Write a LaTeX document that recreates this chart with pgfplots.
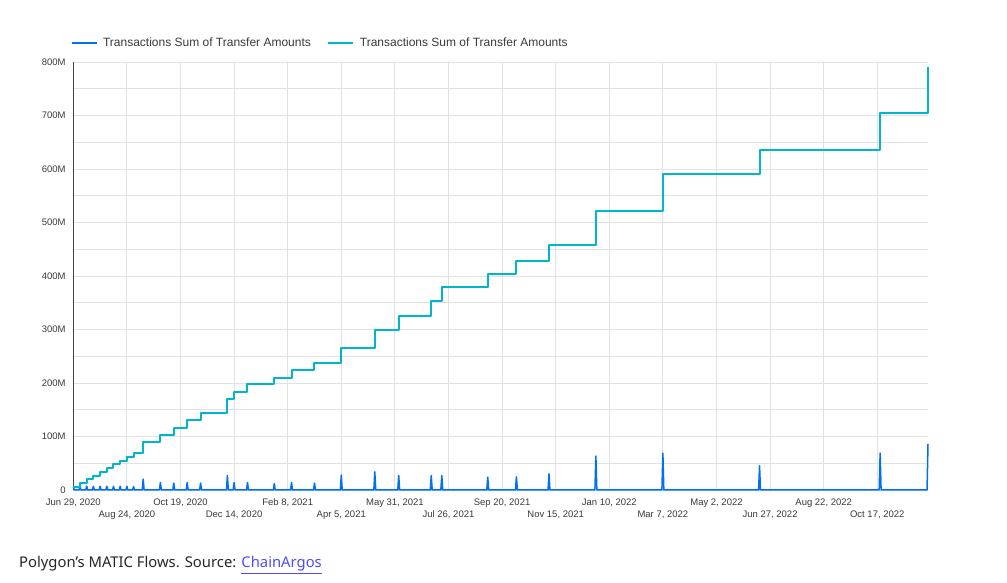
\documentclass[border=0pt]{standalone}
\usepackage{pgfplots}
\pgfplotsset{compat=1.18}
\usepackage{fontspec}
\setmainfont{Liberation Sans}
\newfontfamily\capfont{Noto Sans}
\definecolor{sblue}{HTML}{0072F0}
\definecolor{scyan}{HTML}{00B6CB}
\definecolor{gridc}{HTML}{E2E2E2}
\definecolor{labc}{HTML}{3A3A3A}
\definecolor{axc}{HTML}{444444}
\definecolor{linkc}{HTML}{4B4BFF}
\begin{document}
\begin{tikzpicture}[x=1pt,y=1pt]
\fill[white] (-73.3,-93) rectangle (933.7,490);
\useasboundingbox (-73.3,-93) rectangle (933.7,490);
\begin{axis}[
  scale only axis, width=854.7pt, height=428pt,
  xmin=0, xmax=893, ymin=0, ymax=800,
  clip=false,
  axis x line*=bottom, axis y line*=left,
  axis line style={axc, line width=0.8pt},
  x axis line style={draw=gridc},
  major tick length=0pt, minor tick length=0pt,
  ytick={0,100,...,800},
  yticklabels={0,100M,200M,300M,400M,500M,600M,700M,800M},
  minor ytick={50,150,...,750},
  ymajorgrids, yminorgrids, xmajorgrids,
  grid style={gridc, line width=0.8pt},
  minor grid style={gridc, line width=0.8pt},
  xtick={0,112,...,784},
  xticklabels={{Jun 29, 2020},{Oct 19, 2020},{Feb 8, 2021},{May 31, 2021},{Sep 20, 2021},{Jan 10, 2022},{May 2, 2022},{Aug 22, 2022}},
  extra x ticks={56,168,...,840},
  extra x tick labels={{Aug 24, 2020},{Dec 14, 2020},{Apr 5, 2021},{Jul 26, 2021},{Nov 15, 2021},{Mar 7, 2022},{Jun 27, 2022},{Oct 17, 2022}},
  extra x tick style={grid=major, xticklabel style={yshift=-12.7pt}},
  xticklabel style={font=\fontsize{9.5}{11}\selectfont, text=labc, text height=7pt, text depth=2pt, yshift=-4.5pt},
  yticklabel style={font=\fontsize{9.5}{11}\selectfont, text=labc, xshift=-4.2pt},
  legend columns=2,
  legend cell align=left,
  legend image code/.code={\draw[#1, line width=2pt] (0pt,0pt) -- (25pt,0pt); \path (28pt,0pt);},
  legend style={at={(rel axis cs:0,1)}, anchor=west, xshift=-2.5pt, yshift=19pt,
    draw=none, fill=none, inner sep=0pt, outer sep=0pt,
    font=\fontsize{12}{14}\selectfont, text=labc,
    nodes={inner xsep=2.5pt, inner ysep=1pt},
    /tikz/every even column/.append style={column sep=14pt}},
]
\addplot[sblue, line width=1.5pt, line join=round, sharp plot] coordinates {
(0,6.3) (1,0) (6,0) (7,6.3) (8,0) (13,0) (14,7.4) (15,0) (20,0) (21,7) (22,0)
(27,0) (28,7) (29,0) (34,0) (35,7) (36,0) (41,0) (42,7) (43,0) (48,0) (49,7) (50,0)
(55,0) (56,7) (57,0) (62,0) (63,6.5) (64,0) (72,0) (73,20.5) (74,0) (90,0) (91,14) (92,0)
(104,0) (105,13) (106,0) (118,0) (119,14) (120,0) (132,0) (133,13) (134,0)
(160,0) (161,27) (162,0) (167,0) (168,14) (169,0) (181,0) (182,14) (183,0)
(209,0) (210,12) (211,0) (227,0) (228,14) (229,0) (251,0) (252,13) (253,0)
(279,0) (280,28) (281,0) (314,0) (315,34) (316,0) (339,0) (340,27) (341,0)
(373,0) (374,27) (375,0) (384,0) (385,27) (386,0) (432,0) (433,24) (434,0)
(462,0) (463,24.6) (464,0) (496,0) (497,30) (498,0) (545,0) (546,63.4) (547,0)
(615,0) (616,68.7) (617,0) (716,0) (717,45.3) (718,0) (842,0) (843,69) (844,0)
(892,0) (893,86)
};
\addlegendentry{Transactions Sum of Transfer Amounts}
\addplot[scyan, line width=2pt, line join=round, const plot] coordinates {
(0,6.3) (7,12.6) (14,20) (21,27) (28,34) (35,41) (42,48) (49,55) (56,62) (63,68.5)
(73,89) (91,103) (105,116) (119,130) (133,143) (161,170) (168,184) (182,198)
(210,210) (228,224) (252,237) (280,265) (315,299) (340,326) (374,353) (385,380)
(433,404) (463,428.6) (497,458.6) (546,522) (616,590.7) (717,636) (843,705) (893,791)
};
\addlegendentry{Transactions Sum of Transfer Amounts}
\end{axis}
\node[anchor=base west, inner sep=0pt, font=\capfont\fontsize{14.8}{17}\selectfont, text=black!85] at (-54.3,-78)
  {Polygon’s MATIC Flows. Source: \textcolor{linkc}{\underline{ChainArgos}}};
\end{tikzpicture}
\end{document}
